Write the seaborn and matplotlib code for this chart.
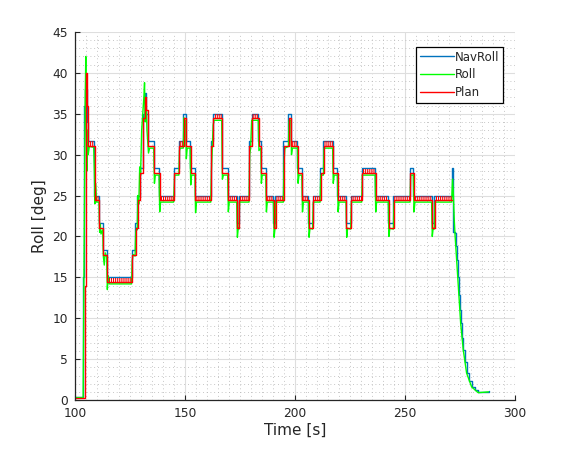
import matplotlib
matplotlib.use("Agg")
import matplotlib.pyplot as plt
import seaborn as sns
from matplotlib.ticker import MultipleLocator

# ====== Data ======

# NavRoll: sample-and-hold steps (time [s], roll [deg])
nav_t = [100.0, 103.5, 104.1, 104.7, 105.4, 105.9, 108.7, 110.9, 112.6, 114.4,
         125.9, 127.4, 128.3, 129.4, 130.8, 131.6, 132.3, 133.0, 135.9, 138.3,
         144.9, 147.3, 149.2, 150.3, 152.3, 154.5, 161.8, 162.7, 166.7, 169.4,
         173.5, 174.5, 179.1, 180.3, 183.3, 184.5, 186.7, 190.2, 191.0, 194.7,
         197.0, 198.1, 201.1, 203.1, 206.1, 208.0, 211.4, 212.9, 217.1, 219.3,
         223.2, 225.3, 230.3, 236.4, 242.4, 244.7, 252.3, 253.8, 262.1, 263.3,
         271.2, 271.9, 272.7, 273.1, 273.5, 274.0, 274.5, 274.9, 275.3, 275.9,
         276.5, 277.2, 278.0, 279.0, 280.3, 281.8, 283.3, 288.3]
nav_roll = [0.4, 15.0, 36.0, 38.0, 34.0, 31.67, 25.0, 21.67, 18.33, 15.0,
            18.33, 21.67, 25.0, 28.33, 35.0, 37.5, 35.0, 31.67, 28.33, 25.0,
            28.33, 31.67, 35.0, 31.67, 28.33, 25.0, 31.67, 35.0, 28.33, 25.0,
            21.67, 25.0, 31.67, 35.0, 31.67, 28.33, 25.0, 21.67, 25.0, 31.67,
            35.0, 31.67, 28.33, 25.0, 21.67, 25.0, 28.33, 31.67, 28.33, 25.0,
            21.67, 25.0, 28.33, 25.0, 21.67, 25.0, 28.33, 25.0, 21.67, 25.0,
            28.33, 20.5, 20.4, 18.8, 17.1, 15.0, 12.8, 11.0, 9.4, 7.6,
            6.1, 4.6, 3.3, 2.3, 1.6, 1.2, 1.0, 1.1]

# Roll: measured roll with overshoot / undershoot spikes
roll_t = [100.0, 103.7, 104.0, 104.3, 104.6, 104.9, 105.2, 105.4, 105.7, 106.0,
          106.5, 108.5, 108.8, 109.1, 109.4, 109.8, 110.9, 111.2, 111.5, 111.8,
          112.6, 112.9, 113.3, 113.7, 114.4, 114.7, 115.1, 115.6, 125.7, 126.0,
          126.4, 127.3, 127.6, 128.0, 128.3, 128.6, 129.0, 129.4, 129.8, 130.3,
          130.8, 131.3, 131.6, 131.9, 132.3, 132.7, 133.1, 133.4, 133.9, 135.8,
          136.1, 136.5, 138.2, 138.5, 138.9, 144.8, 145.1, 145.3, 147.2, 147.5,
          147.8, 149.2, 149.5, 149.8, 150.3, 150.6, 151.0, 152.3, 152.6, 153.0,
          154.5, 154.8, 155.2, 161.7, 162.0, 162.4, 162.8, 163.2, 166.7, 167.0,
          167.4, 169.4, 169.7, 170.1, 173.5, 173.8, 174.2, 174.5, 174.8, 179.1,
          179.4, 179.8, 180.3, 183.3, 183.6, 184.5, 184.7, 185.1, 186.7, 187.0,
          187.4, 190.2, 190.5, 190.9, 191.2, 194.7, 195.0, 195.4, 197.0, 197.3,
          198.1, 198.4, 198.8, 201.1, 201.4, 201.8, 203.1, 203.4, 203.8, 206.1,
          206.4, 206.8, 208.0, 208.3, 211.4, 211.7, 212.9, 213.2, 217.1, 217.4,
          217.8, 219.3, 219.6, 220.0, 223.2, 223.5, 223.9, 225.3, 225.6, 230.3,
          230.6, 236.4, 236.7, 237.1, 242.4, 242.7, 243.1, 244.7, 245.0, 252.3,
          252.6, 253.8, 254.1, 254.5, 262.1, 262.4, 262.8, 263.3, 263.6, 271.2,
          271.6, 272.0, 272.4, 272.7, 273.5, 274.5, 275.3, 276.5, 278.0, 280.3,
          283.3, 288.0]
roll = [0.3, 0.3, 12.0, 24.0, 36.0, 42.0, 34.0, 28.0, 33.0, 30.0,
        31.0, 30.9, 28.0, 24.0, 26.5, 24.2, 24.2, 20.5, 21.5, 20.3,
        20.8, 17.5, 16.5, 18.0, 17.5, 13.5, 15.2, 14.2, 14.2, 17.0,
        17.8, 17.6, 20.5, 21.0, 20.8, 25.0, 24.0, 28.5, 27.5, 33.0,
        35.0, 37.0, 38.8, 34.0, 37.0, 33.0, 31.5, 30.2, 30.8, 30.8,
        26.5, 27.5, 27.5, 23.0, 24.2, 24.2, 26.0, 27.5, 27.5, 30.5,
        30.8, 30.8, 34.5, 33.6, 34.2, 29.5, 30.8, 30.8, 26.3, 27.5,
        27.5, 22.9, 24.2, 24.2, 28.0, 30.9, 33.6, 34.2, 34.2, 27.0,
        27.5, 27.5, 23.0, 24.2, 24.2, 19.9, 21.0, 20.9, 24.2, 24.2,
        30.0, 30.8, 34.2, 34.2, 30.5, 30.8, 26.5, 27.5, 27.5, 23.0,
        24.2, 24.2, 19.9, 21.0, 24.2, 24.2, 29.0, 30.8, 31.0, 34.2,
        34.2, 30.0, 30.8, 30.8, 26.5, 27.5, 27.5, 23.0, 24.2, 24.2,
        19.9, 21.0, 20.9, 24.2, 24.2, 27.5, 27.5, 30.8, 30.8, 26.5,
        27.5, 27.5, 23.0, 24.2, 24.2, 19.9, 21.0, 20.9, 24.2, 24.2,
        27.5, 27.5, 23.0, 24.2, 24.2, 20.0, 21.0, 20.9, 24.2, 24.2,
        27.5, 27.5, 23.0, 24.2, 24.2, 20.0, 21.0, 20.9, 24.2, 24.2,
        27.0, 25.0, 22.0, 20.4, 17.1, 12.8, 9.4, 6.1, 3.3, 1.6,
        0.9, 1.0]

# Plan: commanded roll, lags the NavRoll steps a little
plan_t = [100.0, 104.4, 105.0, 105.5, 105.9, 108.9, 111.1, 112.9, 114.7, 126.1,
          127.6, 128.5, 129.5, 130.9, 131.8, 132.4, 133.2, 136.1, 138.5, 145.1,
          147.4, 149.4, 150.5, 152.5, 154.7, 162.0, 162.9, 166.9, 169.6, 173.7,
          174.7, 179.3, 180.5, 183.5, 184.7, 186.9, 190.4, 191.2, 194.9, 197.2,
          198.3, 201.3, 203.3, 206.3, 208.2, 211.6, 213.1, 217.3, 219.5, 223.4,
          225.5, 230.5, 236.6, 242.6, 244.9, 252.5, 254.0, 262.3, 263.5, 271.4]
plan = [0.3, 14.0, 40.0, 36.0, 31.1, 24.45, 21.0, 17.7, 14.45, 17.7,
        21.0, 24.45, 27.8, 34.45, 37.0, 35.5, 31.1, 27.8, 24.45, 27.8,
        31.1, 34.45, 31.1, 27.8, 24.45, 31.1, 34.45, 27.8, 24.45, 21.0,
        24.45, 31.1, 34.45, 31.1, 27.8, 24.45, 21.0, 24.45, 31.1, 34.45,
        31.1, 27.8, 24.45, 21.0, 24.45, 27.8, 31.1, 27.8, 24.45, 21.0,
        24.45, 27.8, 24.45, 21.0, 24.45, 27.8, 24.45, 21.0, 24.45, 24.45]

# Plateaus where the Plan chatters (hatched band just under NavRoll)
hatch_start = [105.9, 109.2, 115.3, 138.5, 147.4, 155.0, 163.0, 169.6, 174.7, 180.5,
               187.0, 191.2, 198.3, 203.3, 208.2, 213.1, 219.5, 225.5, 230.5, 236.6,
               244.9, 254.0, 263.5]
hatch_end = [108.6, 110.8, 125.8, 144.9, 149.2, 161.8, 166.7, 173.5, 179.1, 183.3,
             190.2, 194.7, 201.1, 206.1, 211.4, 217.1, 223.2, 230.3, 236.4, 242.4,
             252.3, 262.1, 271.2]
hatch_level = [31.67, 25.0, 15.0, 25.0, 31.67, 25.0, 35.0, 25.0, 25.0, 35.0,
               25.0, 25.0, 31.67, 25.0, 25.0, 31.67, 25.0, 25.0, 28.33, 25.0,
               25.0, 25.0, 25.0]

# ====== Plot ======
sns.set_theme(style="white")
plt.rcParams['font.family'] = ['DejaVu Sans']
plt.rcParams['hatch.linewidth'] = 0.8
plt.rcParams['hatch.color'] = '#FF0000'
text_col = '#262626'

fig, ax = plt.subplots(figsize=(5.7, 4.5), dpi=100)
fig.subplots_adjust(left=0.1316, right=0.9035, bottom=0.111, top=0.929)

sns.lineplot(x=nav_t, y=nav_roll, ax=ax, color='#0072BD', linewidth=1.0,
             drawstyle='steps-post', estimator=None, sort=False, label='NavRoll')
sns.lineplot(x=roll_t, y=roll, ax=ax, color='#00FF00', linewidth=1.0,
             estimator=None, sort=False, label='Roll')
sns.lineplot(x=plan_t, y=plan, ax=ax, color='#FF0000', linewidth=1.0,
             drawstyle='steps-post', estimator=None, sort=False, label='Plan')

# chattering of the plan on the plateaus
for t0, t1, lev in zip(hatch_start, hatch_end, hatch_level):
    ax.fill_between([t0, t1], lev - 0.6, lev - 0.05, facecolor='none',
                    edgecolor='#FF0000', linewidth=0, hatch='|' * 8, zorder=2.5)

ax.set_xlim(100, 300)
ax.set_ylim(0, 45)
ax.xaxis.set_major_locator(MultipleLocator(50))
ax.xaxis.set_minor_locator(MultipleLocator(5))
ax.yaxis.set_major_locator(MultipleLocator(5))
ax.yaxis.set_minor_locator(MultipleLocator(1))

ax.grid(which='major', color='#dedede', linewidth=0.8, linestyle='-')
ax.grid(which='minor', color='#b4b4b4', linewidth=0.6, linestyle=(0, (1, 3.5)))
ax.set_axisbelow(True)

for side in ['top', 'right']:
    ax.spines[side].set_visible(False)
for side in ['left', 'bottom']:
    ax.spines[side].set_color(text_col)
    ax.spines[side].set_linewidth(0.9)

ax.tick_params(which='major', direction='in', length=3.5, width=0.8,
               colors=text_col, labelsize=8.8, pad=5,
               left=True, bottom=True)
ax.tick_params(which='minor', length=0)

ax.set_xlabel('Time [s]', fontsize=11, color=text_col, labelpad=2)
ax.set_ylabel('Roll [deg]', fontsize=11, color=text_col, labelpad=4)

leg = ax.legend(loc='upper right', bbox_to_anchor=(0.973, 0.959), borderaxespad=0,
                fontsize=8.5, frameon=True, fancybox=False, edgecolor='black',
                framealpha=1, handlelength=2.9, handletextpad=0.1,
                labelspacing=0.4, borderpad=0.3)
leg.get_frame().set_linewidth(0.9)

fig.savefig('out.png', dpi=100)
